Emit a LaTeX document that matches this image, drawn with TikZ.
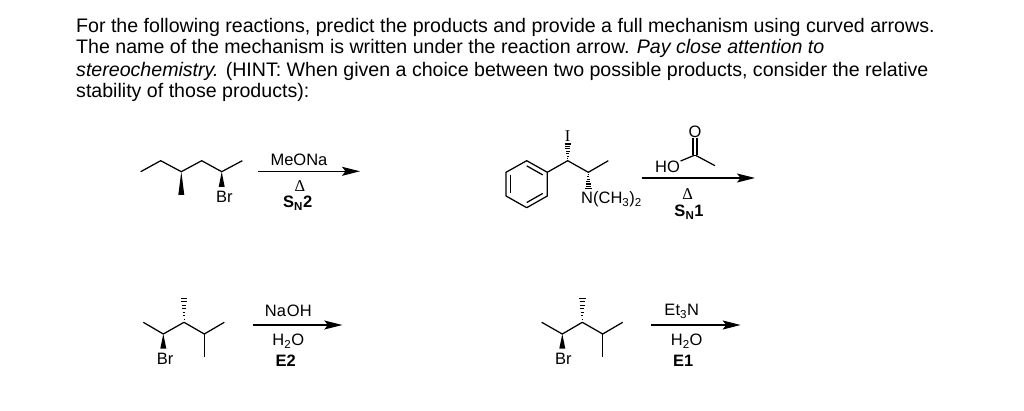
\documentclass[tikz,border=0pt]{standalone}
\usepackage{fontspec}
\setmainfont{Liberation Sans}
\newfontfamily\deltafont{Liberation Serif}
\usetikzlibrary{arrows.meta,calc}
\newcommand{\wedgebond}[2]{\fill (#1) -- ($(#2)+(-3,0)$) -- ($(#2)+(3,0)$) -- cycle;}
\newcommand{\hashbond}[2]{\foreach \t in {0.12,0.27,0.42,0.57,0.72,0.87,1}{\draw[hashline] ($(#1)!\t!(#2)+(-3.2*\t,0)$) -- ($(#1)!\t!(#2)+(3.2*\t,0)$);}}
\begin{document}
\begin{tikzpicture}[
        x=1pt, y=-1pt,
        bond/.style={draw, line width=1.25pt, line join=round},
        hashline/.style={line width=1.1pt},
        rxn/.style={draw, line width=1.4pt, -{Stealth[length=18pt,width=9pt,inset=3.5pt]}},
        line/.style={anchor=base west, inner sep=0pt, font=\fontsize{19.6}{22}\selectfont},
        label/.style={inner sep=0.5pt, font=\fontsize{16.5}{18}\selectfont},
        bold/.style={inner sep=0.5pt, font=\fontsize{16.5}{18}\selectfont\bfseries},
        delta/.style={inner sep=0.5pt, font=\fontsize{16.5}{18}\selectfont\deltafont},
    ]
    \useasboundingbox (0,0) rectangle (1024,411);
    \fill[white] (0,0) rectangle (1024,411);

    \node[line](line1) at (76,33){For the following reactions, predict the products and provide a full mechanism using curved arrows.};
    \node[line](line2) at (76,54){The name of the mechanism is written under the reaction arrow. \textit{Pay close attention to}};
    \node[line](line3) at (76,76.5){\textit{stereochemistry.} (HINT: When given a choice between two possible products, consider the relative};
    \node[line](line4) at (76,98){stability of those products):};

    \coordinate (a1) at (140.7,171.7);
    \coordinate (a2) at (160.7,160.7);
    \coordinate (a3) at (181.3,171.7);
    \coordinate (a4) at (201.7,160.7);
    \coordinate (a5) at (221.7,171.7);
    \coordinate (a6) at (242.3,160.7);
    \coordinate (a7) at (181.3,195);
    \coordinate (a8) at (221.7,187);
    \node[label](abr) at (224.3,197){Br};
    \draw[bond] (a1) -- (a2) -- (a3) -- (a4) -- (a5) -- (a6);
    \wedgebond{a3}{a7}
    \wedgebond{a5}{a8}
    \coordinate (astart) at (258.3,171.3);
    \coordinate (aend) at (360,171.3);
    \draw[rxn] (astart) -- (aend);
    \node[label](areag) at (299,160){MeONa};
    \node[delta](adelta) at (300,186){Δ};
    \node[bold](aname) at (297.7,203){S\textsubscript{N}2};

    \coordinate (r1) at (526.7,160.7);
    \coordinate (r2) at (547.3,172.3);
    \coordinate (r3) at (547.3,196);
    \coordinate (r4) at (526.7,207.7);
    \coordinate (r5) at (506,196);
    \coordinate (r6) at (506,172.3);
    \coordinate (rc) at (526.7,184.2);
    \coordinate (b1) at (567.7,160.7);
    \coordinate (b2) at (588.3,172.3);
    \coordinate (b3) at (608.3,160.7);
    \coordinate (b4) at (567.7,144);
    \coordinate (b5) at (588.3,188.5);
    \node[delta](iod) at (567.7,136){I};
    \node[label, anchor=west, inner sep=0pt](amine) at (581,199.5){N(CH\textsubscript{3})\textsubscript{2}};
    \draw[bond] (r1) -- (r2) -- (r3) -- (r4) -- (r5) -- (r6) -- cycle;
    \draw[bond] ($(rc)!0.78!(r1)$) -- ($(rc)!0.78!(r2)$);
    \draw[bond] ($(rc)!0.78!(r3)$) -- ($(rc)!0.78!(r4)$);
    \draw[bond] ($(rc)!0.78!(r5)$) -- ($(rc)!0.78!(r6)$);
    \draw[bond] (r2) -- (b1) -- (b2) -- (b3);
    \hashbond{b1}{b4}
    \hashbond{b2}{b5}
    \node[label](oxy) at (695,131.5){O};
    \node[label](hyd) at (667.5,166.5){HO};
    \coordinate (acc) at (695,155);
    \coordinate (ach) at (715,165.7);
    \draw[bond] (hyd) -- (acc) -- (ach);
    \draw[bond, double, double distance=2.8pt] (acc) -- (oxy);
    \coordinate (bstart) at (641.7,178);
    \coordinate (bend) at (755,178);
    \draw[rxn] (bstart) -- (bend);
    \node[delta](bdelta) at (687.7,194){Δ};
    \node[bold](bname) at (689,212){S\textsubscript{N}1};

    \coordinate (c1) at (143.3,322.3);
    \coordinate (c2) at (163.3,334);
    \coordinate (c3) at (184,322.3);
    \coordinate (c4) at (204.3,334);
    \coordinate (c5) at (224.3,322.3);
    \coordinate (c6) at (204.3,356.7);
    \coordinate (c7) at (163.3,348.5);
    \coordinate (c8) at (184,298.5);
    \node[label](cbr) at (165,358.5){Br};
    \draw[bond] (c1) -- (c2) -- (c3) -- (c4) -- (c5);
    \draw[bond] (c4) -- (c6);
    \wedgebond{c2}{c7}
    \hashbond{c3}{c8}
    \coordinate (cstart) at (252.7,325);
    \coordinate (cend) at (342.3,325);
    \draw[rxn] (cstart) -- (cend);
    \node[label](creag) at (288.3,310.7){Na\kern1ptOH};
    \node[label](csolv) at (288.3,341.5){H\textsubscript{2}O};
    \node[bold](cname) at (285.7,360.7){E2};

    \coordinate (d1) at (541.7,322.3);
    \coordinate (d2) at (562.3,334);
    \coordinate (d3) at (582.3,322.3);
    \coordinate (d4) at (602.7,334);
    \coordinate (d5) at (622.7,322.3);
    \coordinate (d6) at (602.7,356.7);
    \coordinate (d7) at (562.3,348.5);
    \coordinate (d8) at (582.3,298.5);
    \node[label](dbr) at (563.3,358.5){Br};
    \draw[bond] (d1) -- (d2) -- (d3) -- (d4) -- (d5);
    \draw[bond] (d4) -- (d6);
    \wedgebond{d2}{d7}
    \hashbond{d3}{d8}
    \coordinate (dstart) at (651,325);
    \coordinate (dend) at (740.7,325);
    \draw[rxn] (dstart) -- (dend);
    \node[label](dreag) at (681.7,311.5){Et\textsubscript{3}N};
    \node[label](dsolv) at (686.7,341.5){H\textsubscript{2}O};
    \node[bold](dname) at (683.3,360.7){E1};
\end{tikzpicture}
\end{document}
